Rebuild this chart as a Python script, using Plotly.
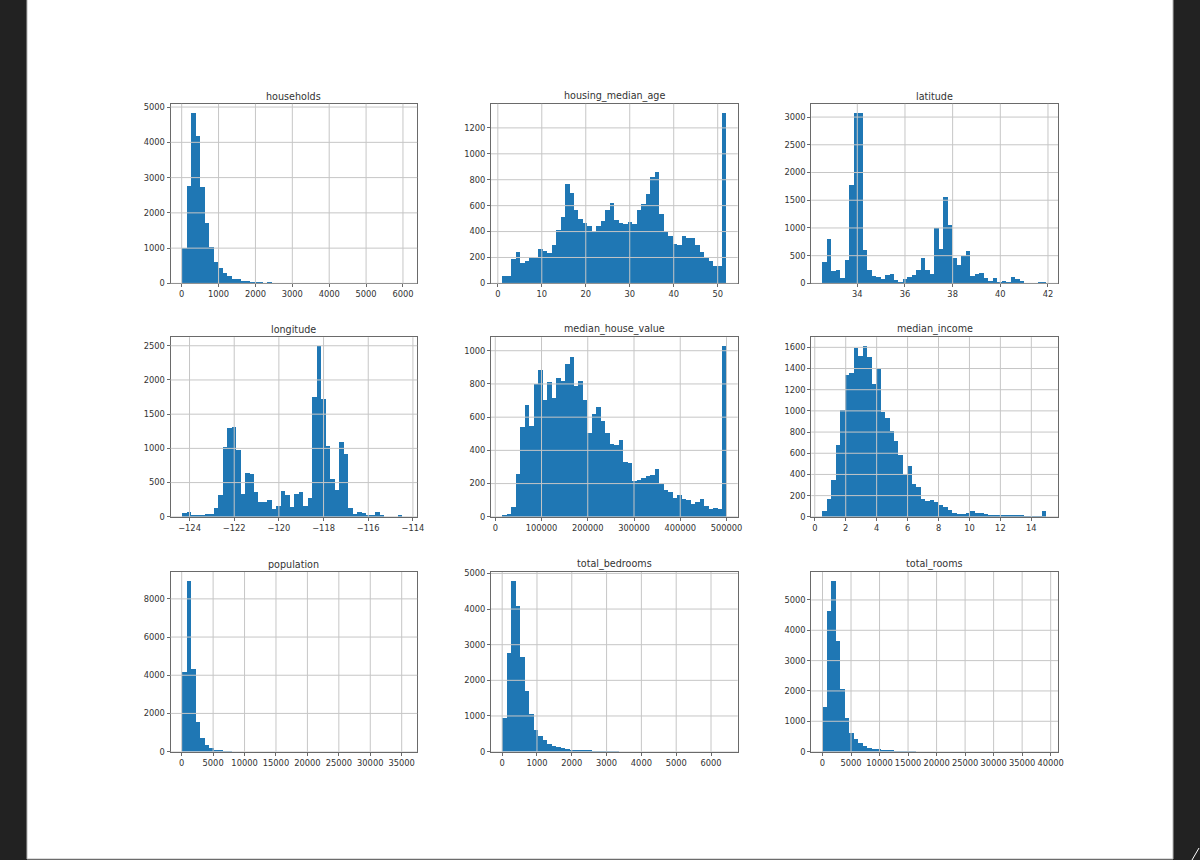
import plotly.graph_objects as go
from plotly.subplots import make_subplots

# counts per bin, 50 bins each
households = [1000, 2780, 4850, 4190, 2730, 1720, 1050, 620, 450, 300,
              225, 140, 130, 85, 65, 45, 30, 20, 15, 20,
              12, 8, 6, 5, 3, 3, 2, 0, 0, 0,
              0, 0, 0, 0, 0, 0, 0, 0, 0, 0,
              0, 0, 0, 0, 0, 0, 0, 0, 0, 0]
housing_median_age = [60, 60, 190, 245, 160, 175, 205, 200, 265, 250,
                      240, 300, 410, 515, 770, 700, 570, 500, 465, 445,
                      400, 445, 480, 565, 620, 490, 470, 460, 475, 460,
                      565, 615, 690, 825, 860, 535, 395, 370, 305, 295,
                      370, 350, 355, 295, 245, 200, 175, 135, 135, 1320]
latitude = [395, 810, 225, 250, 105, 430, 1770, 3080, 3085, 610,
            245, 130, 125, 75, 160, 175, 60, 30, 75, 120,
            160, 245, 455, 245, 170, 1000, 630, 1565, 1050, 455,
            335, 490, 580, 140, 165, 185, 100, 55, 110, 20,
            40, 35, 115, 80, 40, 8, 8, 5, 12, 12]
longitude = [55, 65, 25, 15, 25, 45, 35, 130, 310, 1020,
             1290, 1305, 975, 335, 640, 630, 360, 220, 210, 245,
             110, 150, 375, 315, 135, 330, 365, 155, 275, 1750,
             2500, 1715, 1030, 545, 395, 1085, 915, 120, 40, 70,
             50, 15, 15, 70, 25, 0, 0, 0, 25, 0]
median_house_value = [8, 15, 60, 255, 540, 675, 545, 800, 880, 705,
                      810, 715, 835, 815, 920, 960, 785, 815, 700, 505,
                      620, 660, 575, 505, 435, 430, 460, 330, 320, 215,
                      222, 232, 245, 250, 285, 195, 160, 150, 115, 130,
                      105, 100, 78, 88, 105, 65, 48, 50, 46, 1030]
median_income = [50, 165, 345, 675, 1010, 1340, 1360, 1590, 1520, 1615,
                 1510, 1255, 1395, 990, 930, 810, 715, 580, 400, 480,
                 310, 280, 170, 145, 155, 135, 110, 90, 60, 38,
                 28, 22, 30, 55, 35, 33, 25, 10, 12, 8,
                 8, 8, 6, 6, 6, 3, 3, 3, 3, 50]
population = [4190, 8960, 4330, 1570, 700, 330, 175, 85, 45, 30,
              20, 0, 0, 0, 0, 0, 0, 0, 0, 0,
              0, 0, 0, 0, 0, 0, 0, 0, 0, 0,
              0, 0, 0, 0, 0, 0, 0, 0, 0, 0]
population = population + [0] * (50 - len(population))
total_bedrooms = [930, 2770, 4800, 4100, 2660, 1690, 1060, 620, 430, 320,
                  225, 160, 125, 90, 65, 45, 35, 28, 22, 20,
                  12, 8, 5, 4, 3, 2, 0, 0, 0, 0,
                  0, 0, 0, 0, 0, 0, 0, 0, 0, 0,
                  0, 0, 0, 0, 0, 0, 0, 0, 0, 0]
total_rooms = [1480, 4650, 5640, 3660, 2050, 1120, 600, 400, 270, 170,
               115, 85, 80, 50, 28, 22, 18, 15, 10, 8,
               6, 0, 0, 0, 0, 0, 0, 0, 0, 0]
total_rooms = total_rooms + [0] * (50 - len(total_rooms))

names = ["households", "housing_median_age", "latitude",
         "longitude", "median_house_value", "median_income",
         "population", "total_bedrooms", "total_rooms"]
counts = [households, housing_median_age, latitude,
          longitude, median_house_value, median_income,
          population, total_bedrooms, total_rooms]
bin_low = [1, 1, 32.54, -124.35, 14999, 0.4999, 3, 1, 2]
bin_high = [6082, 52, 41.95, -114.31, 500001, 15.0001, 35682, 6445, 39320]

x_ticks = [
    [0, 1000, 2000, 3000, 4000, 5000, 6000],
    [0, 10, 20, 30, 40, 50],
    [34, 36, 38, 40, 42],
    [-124, -122, -120, -118, -116, -114],
    [0, 100000, 200000, 300000, 400000, 500000],
    [0, 2, 4, 6, 8, 10, 12, 14],
    [0, 5000, 10000, 15000, 20000, 25000, 30000, 35000],
    [0, 1000, 2000, 3000, 4000, 5000, 6000],
    [0, 5000, 10000, 15000, 20000, 25000, 30000, 35000, 40000],
]
y_ticks = [
    [0, 1000, 2000, 3000, 4000, 5000],
    [0, 200, 400, 600, 800, 1000, 1200],
    [0, 500, 1000, 1500, 2000, 2500, 3000],
    [0, 500, 1000, 1500, 2000, 2500],
    [0, 200, 400, 600, 800, 1000],
    [0, 200, 400, 600, 800, 1000, 1200, 1400, 1600],
    [0, 2000, 4000, 6000, 8000],
    [0, 1000, 2000, 3000, 4000, 5000],
    [0, 1000, 2000, 3000, 4000, 5000],
]

W, H = 1200, 860
BLUE = "#1f77b4"
GRID = "#c6c6c6"
FRAME = "#6a6a6a"
TEXT = "#333333"
FONT = "DejaVu Sans"

lefts = [170.5, 491, 811.3]
tops = [103.8, 337.2, 572.0]
panel_w, panel_h = 246.7, 179.6

fig = make_subplots(rows=3, cols=3)

for i, name in enumerate(names):
    r, c = i // 3 + 1, i % 3 + 1
    low, high = bin_low[i], bin_high[i]
    step = (high - low) / 50
    pad = (high - low) * 0.05
    fig.add_trace(go.Bar(y=counts[i], x0=low + step / 2, dx=step, width=step,
                         marker={"color": BLUE, "line": {"width": 0}},
                         showlegend=False), row=r, col=c)
    left = lefts[c - 1]
    top = tops[r - 1]
    fig.update_xaxes(domain=[left / W, (left + panel_w) / W],
                     range=[low - pad, high + pad],
                     tickvals=x_ticks[i], tickformat="d", showgrid=False, zeroline=False,
                     ticks="outside", ticklen=3, tickwidth=1, tickcolor=FRAME,
                     showline=True, mirror=True, linecolor=FRAME, linewidth=1,
                     tickfont={"family": FONT, "size": 8.3, "color": TEXT},
                     row=r, col=c)
    fig.update_yaxes(domain=[1 - (top + panel_h) / H, 1 - top / H],
                     range=[0, max(counts[i]) * 1.05],
                     tickvals=y_ticks[i], tickformat="d", showgrid=False, zeroline=False,
                     ticks="outside", ticklen=3, tickwidth=1, tickcolor=FRAME,
                     showline=True, mirror=True, linecolor=FRAME, linewidth=1,
                     tickfont={"family": FONT, "size": 8.3, "color": TEXT},
                     row=r, col=c)
    suffix = "" if i == 0 else str(i + 1)
    # matplotlib draws the grid over the bars, plotly's own grid stays under them
    for t in x_ticks[i]:
        fig.add_shape(type="line", xref="x" + suffix, yref="y" + suffix + " domain",
                      x0=t, x1=t, y0=0, y1=1, layer="above",
                      line={"color": GRID, "width": 1})
    for t in y_ticks[i]:
        fig.add_shape(type="line", xref="x" + suffix + " domain", yref="y" + suffix,
                      x0=0, x1=1, y0=t, y1=t, layer="above",
                      line={"color": GRID, "width": 1})
    fig.add_annotation(text=name, xref="x" + suffix + " domain", yref="y" + suffix + " domain",
                       x=0.5, y=1, yshift=0, yanchor="bottom", showarrow=False,
                       font={"family": FONT, "size": 9.6, "color": TEXT})

# white page between the dark side bands, plus the resize grip in the corner
fig.add_shape(type="rect", xref="paper", yref="paper", x0=27 / W, x1=1173 / W, y0=1 / H, y1=1.01,
              fillcolor="white", line={"color": "#b5b5b5", "width": 1}, layer="below")
fig.add_shape(type="line", xref="paper", yref="paper", x0=1192 / W, x1=1199 / W, y0=0, y1=12 / H,
              line={"color": "white", "width": 1})

fig.update_layout(width=W, height=H,
                  margin={"l": 0, "r": 0, "t": 0, "b": 0, "pad": 0, "autoexpand": False},
                  paper_bgcolor="#222222", plot_bgcolor="rgba(0,0,0,0)",
                  bargap=0, showlegend=False)

fig.write_html("out.html", config={"displayModeBar": False},
               post_script="document.documentElement.style.overflow='hidden';"
                           "document.body.style.overflow='hidden';"
                           "document.body.style.margin='0';"
                           "document.body.style.background='#222222';")
